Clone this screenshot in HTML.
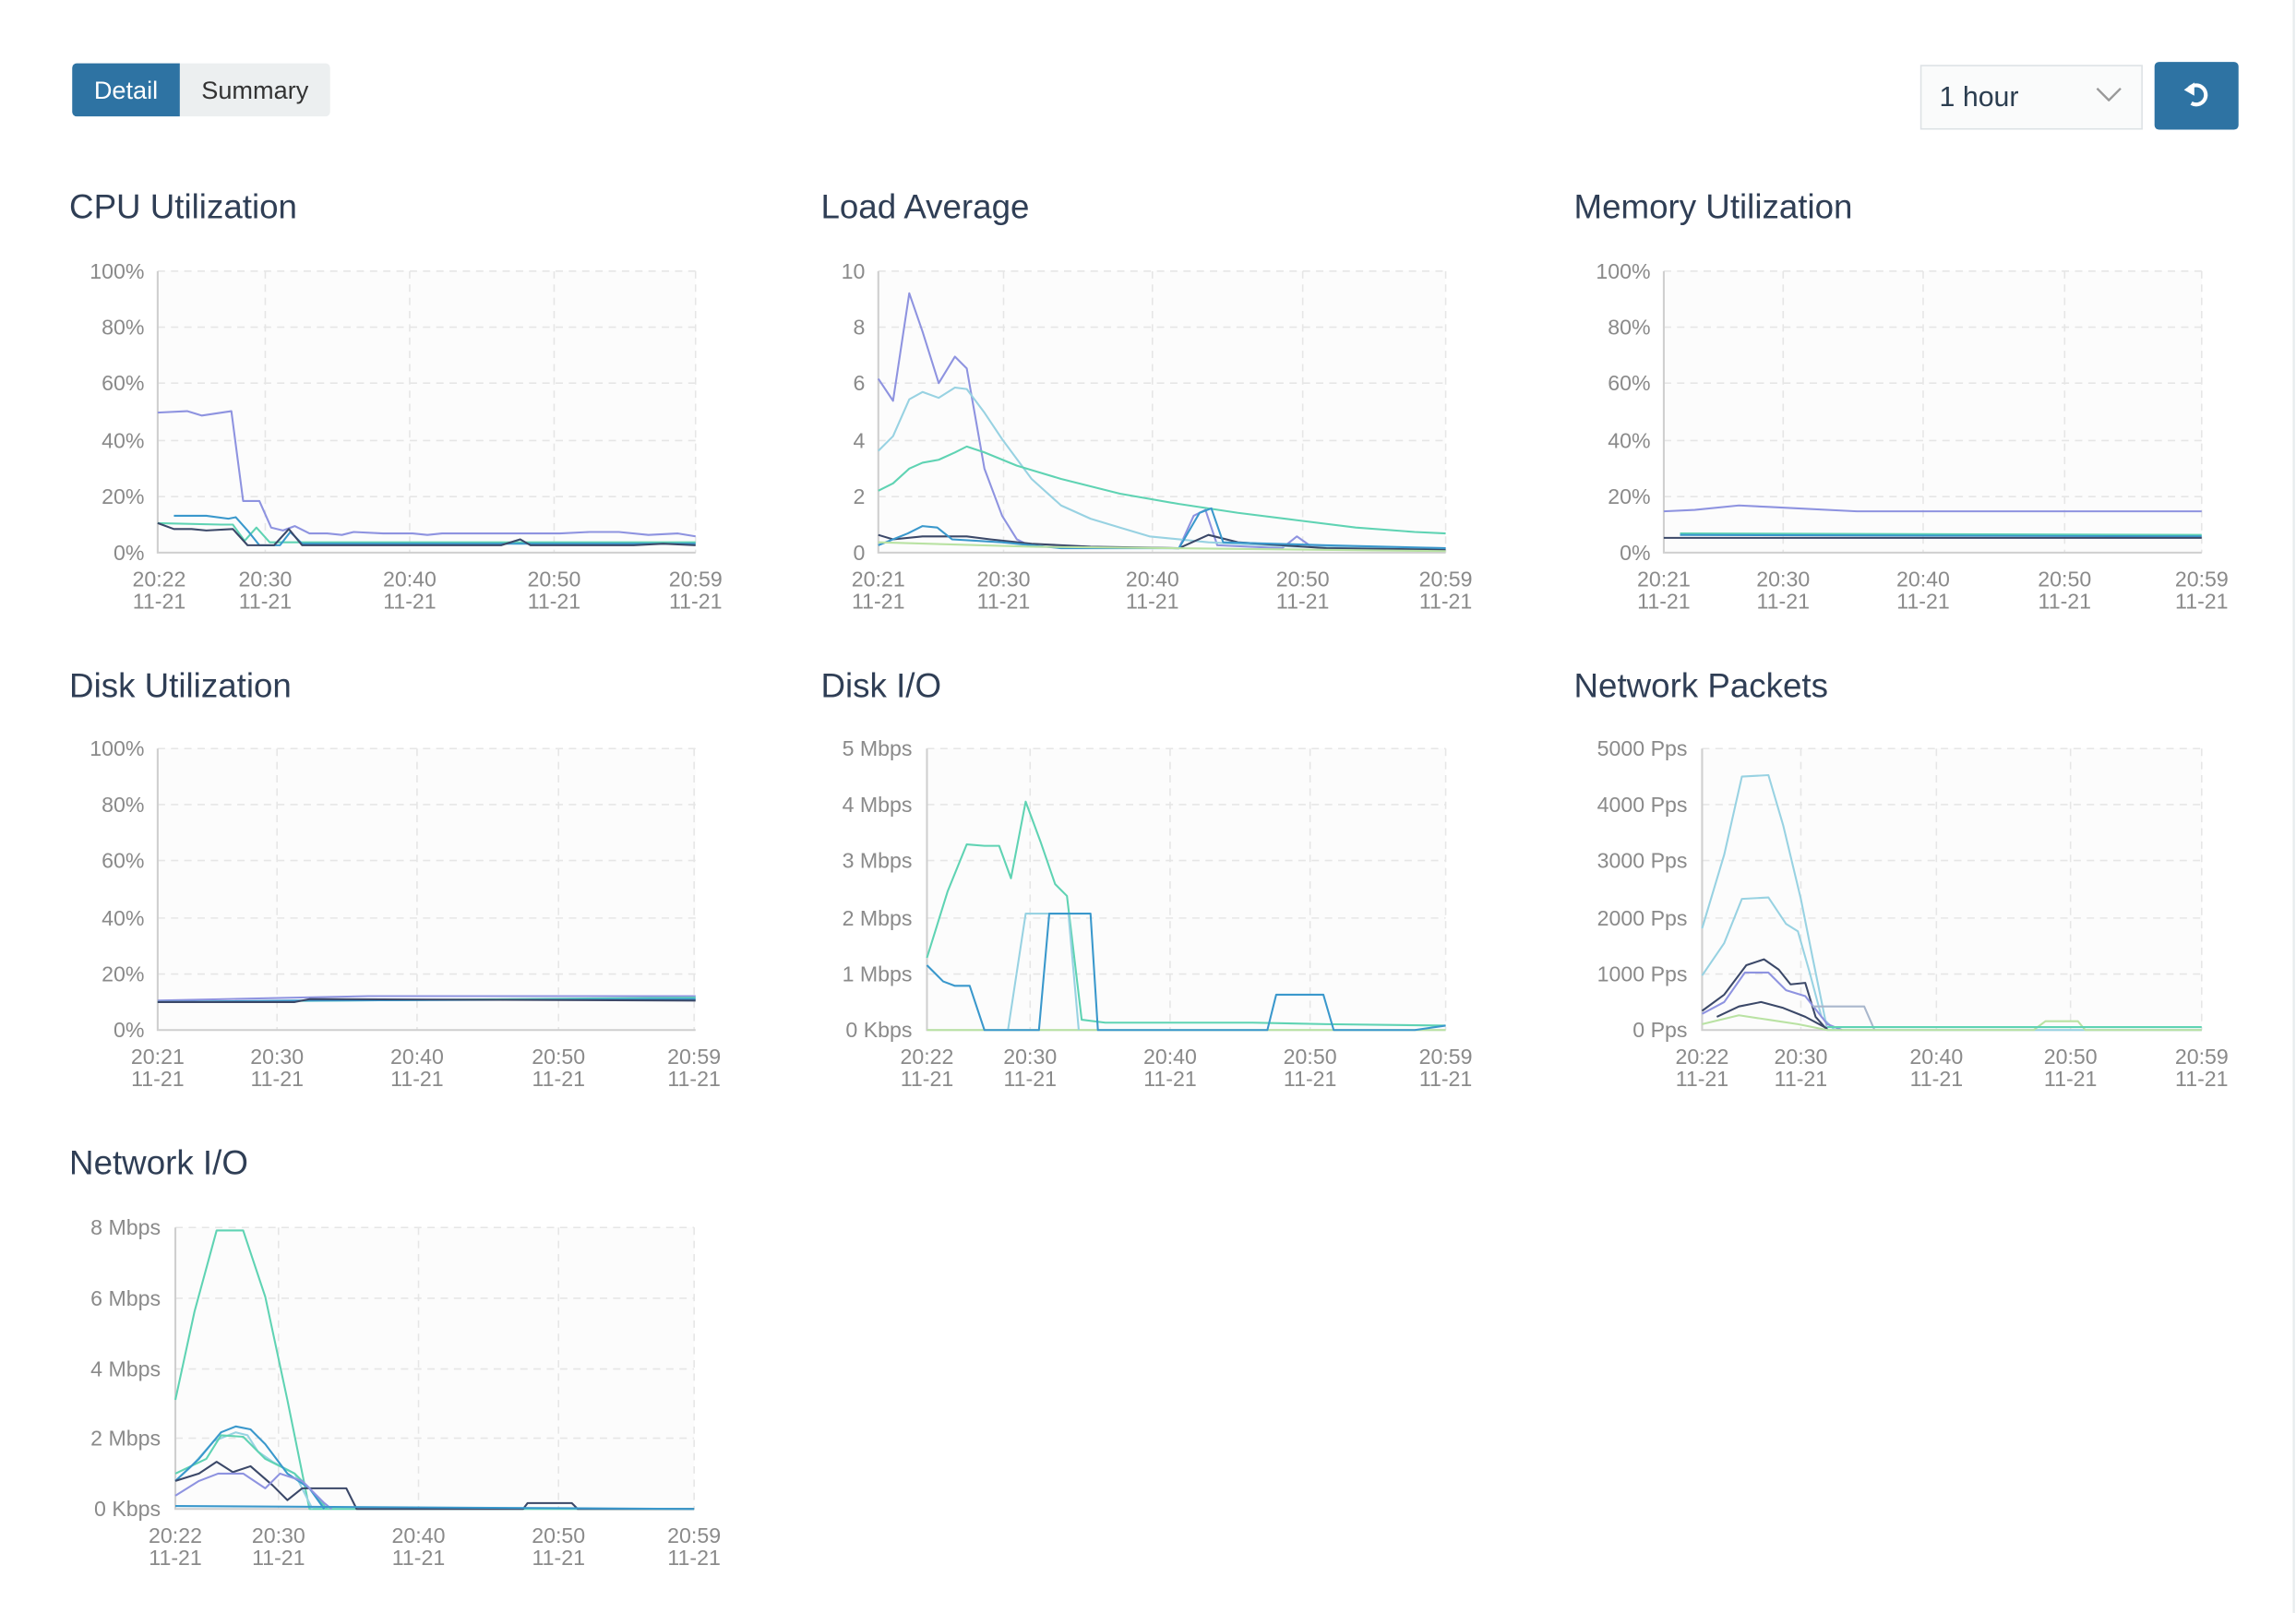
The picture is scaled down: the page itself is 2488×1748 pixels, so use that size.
<!DOCTYPE html>
<html><head><meta charset="utf-8"><style>
html,body{margin:0;padding:0;background:#fff;}
svg{display:block}
text{font-family:"Liberation Sans",sans-serif;}
.t{font-size:23px;fill:#2f3e55}
.yl{font-size:14.5px;fill:#8a8a8a;text-anchor:end}
.xl{font-size:14.5px;fill:#8a8a8a;text-anchor:middle}
.g{stroke:#e6e6e6;stroke-width:1;stroke-dasharray:5 4;fill:none}
.ax{stroke:#cfcfcf;stroke-width:1.3;fill:none}
polyline{fill:none;stroke-width:1.3;stroke-linejoin:round}
.pu{stroke:#8e93e0}.te{stroke:#5fd3b3}.bl{stroke:#3a98cc}.dk{stroke:#3b4868}.lb{stroke:#98d2e2}.lg{stroke:#b9e2a3}.gb{stroke:#a9b7cc}
</style></head><body>
<svg width="2488" height="1748" viewBox="0 0 1558 1094.6" xmlns="http://www.w3.org/2000/svg">
<rect width="1558" height="1095" fill="#fff"/>
<line x1="1556.5" y1="0" x2="1556.5" y2="1095" stroke="#e8ecee" stroke-width="1.5"/>
<!-- top controls -->
<rect x="49" y="43" width="175" height="36" rx="3" fill="#eceff0"/>
<path d="M52,43 H122 V79 H52 a3,3 0 0 1 -3,-3 V46 a3,3 0 0 1 3,-3z" fill="#2e73a3"/>
<text x="85.5" y="67" font-size="17" fill="#fff" text-anchor="middle">Detail</text>
<text x="173" y="67" font-size="17" fill="#333" text-anchor="middle">Summary</text>
<rect x="1303.5" y="44.5" width="150" height="43" fill="#fafbfb" stroke="#dde2e5"/>
<text x="1316" y="72" font-size="19" fill="#2c3e50">1 hour</text>
<polyline points="1423,60 1431,68 1439,60" style="stroke:#999;stroke-width:1.5"/>
<rect x="1462" y="42" width="57" height="46" rx="3" fill="#2e73a3"/>
<path d="M1485.5,60 A6.5,6.5 0 1 1 1487,70" fill="none" stroke="#fff" stroke-width="2.6"/>
<path d="M1482,61 L1489,56 L1489,65z" fill="#fff"/>
<!-- titles -->
<text class="t" x="47" y="148">CPU Utilization</text>
<text class="t" x="557" y="148">Load Average</text>
<text class="t" x="1068" y="148">Memory Utilization</text>
<text class="t" x="47" y="473">Disk Utilization</text>
<text class="t" x="557" y="473">Disk I/O</text>
<text class="t" x="1068" y="473">Network Packets</text>
<text class="t" x="47" y="797">Network I/O</text>

<!-- CPU -->
<g>
<rect x="107" y="184" width="365" height="191" fill="#fcfcfc"/>
<path class="g" d="M107,184H472M107,222H472M107,260H472M107,299H472M107,337H472M180,184V375M278,184V375M376,184V375M472,184V375"/>
<path class="ax" d="M107,184V375H472"/>
<text class="yl" x="98" y="189">100%</text><text class="yl" x="98" y="227">80%</text><text class="yl" x="98" y="265">60%</text><text class="yl" x="98" y="304">40%</text><text class="yl" x="98" y="342">20%</text><text class="yl" x="98" y="380">0%</text>
<text class="xl" x="108" y="398">20:22</text><text class="xl" x="108" y="413">11-21</text>
<text class="xl" x="180" y="398">20:30</text><text class="xl" x="180" y="413">11-21</text>
<text class="xl" x="278" y="398">20:40</text><text class="xl" x="278" y="413">11-21</text>
<text class="xl" x="376" y="398">20:50</text><text class="xl" x="376" y="413">11-21</text>
<text class="xl" x="472" y="398">20:59</text><text class="xl" x="472" y="413">11-21</text>
<polyline class="pu" points="107,280 127,279 137,282 157,279 165,340 176,340 184,358 192,360 200,357 210,362 222,362 232,363 240,361 260,362 280,362 290,363 300,362 340,362 380,362 400,361 420,361 440,363 460,362 472,364"/>
<polyline class="te" points="107,355 150,356 158,356 166,367 174,358 183,368 220,368 472,368"/>
<polyline class="bl" points="118,350 140,350 155,352 160,351 168,360 176,370 190,370 197,361 205,369 472,369"/>
<polyline class="dk" points="107,355 118,359 130,359 140,360 158,359 168,370 186,370 196,359 205,370 340,370 353,366 360,370 430,370 450,369 472,370"/>
</g>

<!-- Load Average -->
<g>
<rect x="596" y="184" width="385" height="191" fill="#fcfcfc"/>
<path class="g" d="M596,184H981M596,222H981M596,260H981M596,299H981M596,337H981M681,184V375M782,184V375M884,184V375M981,184V375"/>
<path class="ax" d="M596,184V375H981"/>
<text class="yl" x="587" y="189">10</text><text class="yl" x="587" y="227">8</text><text class="yl" x="587" y="265">6</text><text class="yl" x="587" y="304">4</text><text class="yl" x="587" y="342">2</text><text class="yl" x="587" y="380">0</text>
<text class="xl" x="596" y="398">20:21</text><text class="xl" x="596" y="413">11-21</text>
<text class="xl" x="681" y="398">20:30</text><text class="xl" x="681" y="413">11-21</text>
<text class="xl" x="782" y="398">20:40</text><text class="xl" x="782" y="413">11-21</text>
<text class="xl" x="884" y="398">20:50</text><text class="xl" x="884" y="413">11-21</text>
<text class="xl" x="981" y="398">20:59</text><text class="xl" x="981" y="413">11-21</text>
<polyline class="pu" points="596,257 606,272 617,199 626,225 637,260 648,242 656,250 668,318 680,350 690,366 700,371 800,372 810,350 818,346 826,370 870,372 880,364 890,371 981,372"/>
<polyline class="lb" points="596,306 606,296 617,271 626,266 637,270 648,263 656,264 668,280 680,298 700,325 720,343 740,352 760,358 780,364 820,368 880,371 981,373"/>
<polyline class="te" points="596,333 606,328 617,318 626,314 637,312 648,307 656,303 668,307 690,316 720,325 760,335 800,342 840,348 880,353 920,358 960,361 981,362"/>
<polyline class="dk" points="596,363 606,366 626,364 656,364 672,366 700,369 740,371 800,372 820,363 840,368 900,372 981,373"/>
<polyline class="bl" points="596,370 616,362 626,357 636,358 646,366 680,368 720,372 800,372 814,348 822,345 830,368 900,370 981,372"/>
<polyline class="lg" points="596,368 700,371 981,374"/>
</g>

<!-- Memory -->
<g>
<rect x="1129" y="184" width="365" height="191" fill="#fcfcfc"/>
<path class="g" d="M1129,184H1494M1129,222H1494M1129,260H1494M1129,299H1494M1129,337H1494M1210,184V375M1305,184V375M1401,184V375M1494,184V375"/>
<path class="ax" d="M1129,184V375H1494"/>
<text class="yl" x="1120" y="189">100%</text><text class="yl" x="1120" y="227">80%</text><text class="yl" x="1120" y="265">60%</text><text class="yl" x="1120" y="304">40%</text><text class="yl" x="1120" y="342">20%</text><text class="yl" x="1120" y="380">0%</text>
<text class="xl" x="1129" y="398">20:21</text><text class="xl" x="1129" y="413">11-21</text>
<text class="xl" x="1210" y="398">20:30</text><text class="xl" x="1210" y="413">11-21</text>
<text class="xl" x="1305" y="398">20:40</text><text class="xl" x="1305" y="413">11-21</text>
<text class="xl" x="1401" y="398">20:50</text><text class="xl" x="1401" y="413">11-21</text>
<text class="xl" x="1494" y="398">20:59</text><text class="xl" x="1494" y="413">11-21</text>
<polyline class="pu" points="1129,347 1150,346 1180,343 1200,344 1220,345 1260,347 1300,347 1494,347"/>
<polyline class="te" points="1140,362 1494,363"/>
<polyline class="bl" points="1140,363 1494,364"/>
<polyline class="dk" points="1129,365 1494,365"/>
</g>

<!-- Disk Util -->
<g>
<rect x="107" y="508" width="365" height="191" fill="#fcfcfc"/>
<path class="g" d="M107,508H472M107,546H472M107,584H472M107,623H472M107,661H472M188,508V699M283,508V699M379,508V699M471,508V699"/>
<path class="ax" d="M107,508V699H472"/>
<text class="yl" x="98" y="513">100%</text><text class="yl" x="98" y="551">80%</text><text class="yl" x="98" y="589">60%</text><text class="yl" x="98" y="628">40%</text><text class="yl" x="98" y="666">20%</text><text class="yl" x="98" y="704">0%</text>
<text class="xl" x="107" y="722">20:21</text><text class="xl" x="107" y="737">11-21</text>
<text class="xl" x="188" y="722">20:30</text><text class="xl" x="188" y="737">11-21</text>
<text class="xl" x="283" y="722">20:40</text><text class="xl" x="283" y="737">11-21</text>
<text class="xl" x="379" y="722">20:50</text><text class="xl" x="379" y="737">11-21</text>
<text class="xl" x="471" y="722">20:59</text><text class="xl" x="471" y="737">11-21</text>
<polyline class="pu" points="107,679 200,677 250,676 472,676"/>
<polyline class="te" points="107,680 472,677"/>
<polyline class="bl" points="107,680 200,679 472,678"/>
<polyline class="dk" points="107,680 200,680 210,678 472,679"/>
</g>

<!-- Disk I/O -->
<g>
<rect x="629" y="508" width="352" height="191" fill="#fcfcfc"/>
<path class="g" d="M629,508H981M629,546H981M629,584H981M629,623H981M629,661H981M699,508V699M794,508V699M889,508V699M981,508V699"/>
<path class="ax" d="M629,508V699H981"/>
<text class="yl" x="619" y="513">5 Mbps</text><text class="yl" x="619" y="551">4 Mbps</text><text class="yl" x="619" y="589">3 Mbps</text><text class="yl" x="619" y="628">2 Mbps</text><text class="yl" x="619" y="666">1 Mbps</text><text class="yl" x="619" y="704">0 Kbps</text>
<text class="xl" x="629" y="722">20:22</text><text class="xl" x="629" y="737">11-21</text>
<text class="xl" x="699" y="722">20:30</text><text class="xl" x="699" y="737">11-21</text>
<text class="xl" x="794" y="722">20:40</text><text class="xl" x="794" y="737">11-21</text>
<text class="xl" x="889" y="722">20:50</text><text class="xl" x="889" y="737">11-21</text>
<text class="xl" x="981" y="722">20:59</text><text class="xl" x="981" y="737">11-21</text>
<polyline class="lg" points="629,699 981,699"/>
<polyline class="te" points="629,650 643,605 656,573 668,574 678,574 686,596 696,544 706,571 716,600 724,608 734,692 750,694 850,694 900,695 981,696"/>
<polyline class="lb" points="684,699 696,620 725,620 732,699"/>
<polyline class="bl" points="629,655 640,666 648,669 658,669 668,699 705,699 712,620 720,620 740,620 745,699 860,699 866,675 898,675 905,699 960,699 981,696"/>
</g>

<!-- Network Packets -->
<g>
<rect x="1155" y="508" width="339" height="191" fill="#fcfcfc"/>
<path class="g" d="M1155,508H1494M1155,546H1494M1155,584H1494M1155,623H1494M1155,661H1494M1222,508V699M1314,508V699M1405,508V699M1494,508V699"/>
<path class="ax" d="M1155,508V699H1494"/>
<text class="yl" x="1145" y="513">5000 Pps</text><text class="yl" x="1145" y="551">4000 Pps</text><text class="yl" x="1145" y="589">3000 Pps</text><text class="yl" x="1145" y="628">2000 Pps</text><text class="yl" x="1145" y="666">1000 Pps</text><text class="yl" x="1145" y="704">0 Pps</text>
<text class="xl" x="1155" y="722">20:22</text><text class="xl" x="1155" y="737">11-21</text>
<text class="xl" x="1222" y="722">20:30</text><text class="xl" x="1222" y="737">11-21</text>
<text class="xl" x="1314" y="722">20:40</text><text class="xl" x="1314" y="737">11-21</text>
<text class="xl" x="1405" y="722">20:50</text><text class="xl" x="1405" y="737">11-21</text>
<text class="xl" x="1494" y="722">20:59</text><text class="xl" x="1494" y="737">11-21</text>
<polyline class="lb" points="1155,630 1170,580 1182,527 1200,526 1210,560 1222,610 1230,650 1240,699 1494,699"/>
<polyline class="lb" points="1155,662 1170,640 1182,610 1200,609 1212,627 1220,632 1228,660 1236,690 1245,699"/>
<polyline class="dk" points="1155,686 1170,675 1185,655 1197,651 1207,658 1215,668 1225,667 1232,690 1240,699"/>
<polyline class="pu" points="1155,688 1170,680 1184,660 1200,660 1212,672 1225,676 1240,695 1250,699"/>
<polyline class="dk" points="1165,690 1180,683 1195,680 1210,684 1225,690 1240,698"/>
<polyline class="gb" points="1230,683 1265,683 1272,699"/>
<polyline class="lg" points="1155,695 1180,689 1200,692 1220,695 1240,699 1380,699 1388,693 1410,693 1415,699 1494,699"/>
<polyline class="te" points="1240,697 1494,697"/>
</g>

<!-- Network I/O -->
<g>
<rect x="119" y="833" width="352" height="191" fill="#fcfcfc"/>
<path class="g" d="M119,833H471M119,881H471M119,929H471M119,976H471M189,833V1024M284,833V1024M379,833V1024M471,833V1024"/>
<path class="ax" d="M119,833V1024H471"/>
<text class="yl" x="109" y="838">8 Mbps</text><text class="yl" x="109" y="886">6 Mbps</text><text class="yl" x="109" y="934">4 Mbps</text><text class="yl" x="109" y="981">2 Mbps</text><text class="yl" x="109" y="1029">0 Kbps</text>
<text class="xl" x="119" y="1047">20:22</text><text class="xl" x="119" y="1062">11-21</text>
<text class="xl" x="189" y="1047">20:30</text><text class="xl" x="189" y="1062">11-21</text>
<text class="xl" x="284" y="1047">20:40</text><text class="xl" x="284" y="1062">11-21</text>
<text class="xl" x="379" y="1047">20:50</text><text class="xl" x="379" y="1062">11-21</text>
<text class="xl" x="471" y="1047">20:59</text><text class="xl" x="471" y="1062">11-21</text>
<polyline class="te" points="119,950 132,890 147,835 165,835 180,880 195,950 210,1024 471,1024"/>
<polyline class="lb" points="119,1005 130,995 145,978 160,972 168,974 175,985 185,992 200,1000 212,1024"/>
<polyline class="te" points="119,1000 140,990 150,974 165,975 180,990 200,1000 210,1010 222,1024"/>
<polyline class="bl" points="119,1005 135,990 150,972 160,968 170,970 180,980 195,1000 210,1010 220,1024"/>
<polyline class="dk" points="119,1005 135,1000 147,992 158,999 170,995 185,1008 195,1018 205,1010 235,1010 242,1024 355,1024 358,1020 388,1020 392,1024 471,1024"/>
<polyline class="pu" points="119,1015 135,1005 148,1000 165,1000 180,1010 190,1000 205,1005 220,1020 225,1024"/>
<polyline class="bl" points="119,1022 471,1024"/>
</g>
</svg>
</body></html>
